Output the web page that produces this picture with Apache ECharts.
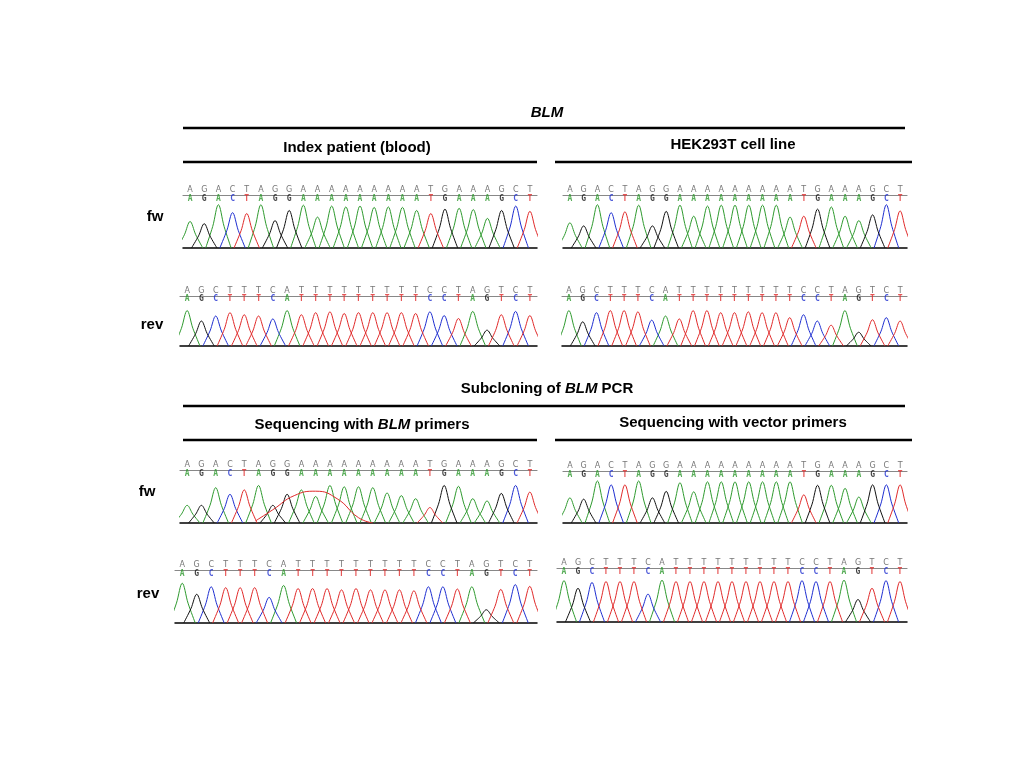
<!DOCTYPE html>
<html>
<head>
<meta charset="utf-8">
<script src="https://cdn.jsdelivr.net/npm/echarts@6/dist/echarts.min.js"></script>
<style>html,body{margin:0;background:#fff}#main{width:1024px;height:768px}</style>
</head>
<body>
<div id="main"></div>
<script>
// sequences read from the base calls
var seqFw = 'AGACTAGGAAAAAAAAATGAAAGCT'.split('');
var seqRev = 'AGCTTTCATTTTTTTTTCCTAGTCT'.split('');

// peak heights (relative), one per base
var hIndexFw = [.6,.55,.98,.8,.78,.98,.62,.85,.97,.7,.95,.93,.95,.92,.93,.92,.85,.78,.88,.9,.87,.67,.85,.95,.83];
var hHekFw = [.57,.5,.98,.8,.82,.97,.5,.83,.97,.72,.95,.97,.97,.97,.97,.97,.7,.72,.88,.93,.72,.62,.75,.98,.84];
var hIndexRev = [.85,.6,.72,.8,.75,.72,.65,.85,.75,.8,.82,.78,.8,.8,.8,.8,.78,.82,.73,.66,.83,.38,.75,.83,.73];
var hHekRev = [.85,.58,.8,.85,.85,.82,.62,.72,.65,.85,.85,.8,.8,.82,.8,.8,.68,.75,.6,.5,.85,.33,.63,.68,.6];
var hSubFw = [.4,.4,.8,.65,.75,.85,.4,.65,.75,.6,.85,.82,.82,.8,.68,.62,.55,.35,.85,.83,.55,.5,.67,.85,.7];
var hVecFw = [.58,.55,.97,.88,.88,.97,.58,.73,.93,.72,.95,.95,.95,.95,.95,.95,.95,.65,.87,.87,.8,.6,.88,.88,.88];
var hSubRev = [.9,.65,.82,.8,.8,.8,.58,.85,.78,.78,.78,.75,.78,.75,.75,.75,.73,.82,.82,.77,.82,.3,.76,.87,.83];
var hVecRev = [.92,.75,.88,.9,.9,.9,.62,.93,.9,.9,.9,.9,.9,.9,.9,.9,.9,.92,.9,.9,.93,.5,.75,.92,.9];
// broad red artifact in the subcloned fw trace
var artifactX = [5.3, 6.5, 8, 9.5, 11, 12.5, 13.5];
var artifactY = [0.05, 0.3, 0.62, 0.72, 0.55, 0.12, 0];

var baseColor = {A: '#2f9a2f', C: '#1f2fd0', G: '#111111', T: '#e02a2a'};

// panel frames: [left, lineTop, right, baseline]
var panels = [
  {seq: seqFw, h: hIndexFw, box: [183, 195, 537, 248]},
  {seq: seqFw, h: hHekFw, box: [563, 195, 907, 248]},
  {seq: seqRev, h: hIndexRev, box: [180, 296, 537, 346]},
  {seq: seqRev, h: hHekRev, box: [562, 296, 907, 346]},
  {seq: seqFw, h: hSubFw, box: [180, 470, 537, 523], artifact: true},
  {seq: seqFw, h: hVecFw, box: [563, 471, 907, 523]},
  {seq: seqRev, h: hSubRev, box: [175, 570, 537, 623]},
  {seq: seqRev, h: hVecRev, box: [557, 568, 907, 622]}
];

var grid = [], xAxis = [], yAxis = [], series = [];
panels.forEach(function (p, k) {
  var b = p.box;
  grid.push({left: b[0], top: b[1], width: b[2] - b[0], height: b[3] - b[1]});
  // value axis for peaks (baseline)
  xAxis.push({gridIndex: k, type: 'value', min: 0, max: p.seq.length,
    axisLine: {show: true, onZero: false, lineStyle: {color: '#000', width: 1.5}},
    axisTick: {show: false}, axisLabel: {show: false}, splitLine: {show: false}});
  // gray called bases above the top line
  xAxis.push({gridIndex: k, type: 'category', position: 'top', data: p.seq, boundaryGap: true,
    axisLine: {show: true, onZero: false, lineStyle: {color: '#888', width: 1.2}}, axisTick: {show: false},
    axisLabel: {interval: 0, color: '#777', fontSize: 8, margin: 1, fontFamily: 'DejaVu Sans'}});
  yAxis.push({gridIndex: k, type: 'value', min: 0, max: 1.2, show: false});
  'ACGT'.split('').forEach(function (base) {
    var d = [];
    p.seq.forEach(function (s, i) {
      if (s !== base) return;
      var h = p.h[i];
      d.push([i - 0.4, 0], [i + 0.1, h * 0.5], [i + 0.5, h], [i + 0.9, h * 0.5], [i + 1.4, 0], ['-', '-']);
    });
    series.push({type: 'line', xAxisIndex: k * 2, yAxisIndex: k, data: d, smooth: 0.35,
      showSymbol: false, silent: true, lineStyle: {color: baseColor[base], width: 1}});
  });
  // coloured base calls just below the top line
  series.push({type: 'scatter', xAxisIndex: k * 2, yAxisIndex: k, symbolSize: 0, silent: true,
    data: p.seq.map(function (s, i) { return {value: [i + 0.5, 1.12], name: s}; }),
    label: {show: true, position: 'inside', formatter: '{b}', fontSize: 8, fontWeight: 'bold',
      fontFamily: 'DejaVu Sans Mono', color: function (prm) { return baseColor[prm.name]; }}});
  if (p.artifact) {
    series.push({type: 'line', xAxisIndex: k * 2, yAxisIndex: k, smooth: true, showSymbol: false,
      data: artifactX.map(function (x, i) { return [x, artifactY[i]]; }),
      lineStyle: {color: baseColor.T, width: 1}});
  }
});
// label colours per point (callback colour not supported on series labels)
series.forEach(function (s) {
  if (s.type === 'scatter') {
    s.data.forEach(function (d) { d.label = {color: baseColor[d.name]}; });
    delete s.label.color;
  }
});

function txt(x, y, s, extra) {
  return {type: 'text', x: x, y: y, style: Object.assign({text: s, font: 'bold 15px "Liberation Sans", Arial',
    fill: '#000', textAlign: 'center', textVerticalAlign: 'middle'}, extra || {})};
}
function rule(x1, x2, y) {
  return {type: 'line', shape: {x1: x1, y1: y, x2: x2, y2: y}, style: {stroke: '#000', lineWidth: 2.5}};
}
var richFonts = {b: {font: 'bold 15px "Liberation Sans", Arial'}, i: {font: 'italic bold 15px "Liberation Sans", Arial'}};
var graphic = [
  txt(547, 113, 'BLM', {font: 'italic bold 15px "Liberation Sans", Arial'}),
  rule(183, 905, 128),
  txt(357, 148, 'Index patient (blood)'), rule(183, 537, 162),
  txt(733, 145, 'HEK293T cell line'), rule(555, 912, 162),
  {type: 'text', x: 547, y: 389, style: {text: '{b|Subcloning of }{i|BLM}{b| PCR}', textAlign: 'center', textVerticalAlign: 'middle', rich: richFonts}},
  rule(183, 905, 406),
  {type: 'text', x: 362, y: 425, style: {text: '{b|Sequencing with }{i|BLM}{b| primers}', textAlign: 'center', textVerticalAlign: 'middle', rich: richFonts}},
  rule(183, 537, 440),
  txt(733, 423, 'Sequencing with vector primers'), rule(555, 912, 440),
  txt(155, 217, 'fw'), txt(152, 325, 'rev'), txt(147, 492, 'fw'), txt(148, 594, 'rev')
];

var chart = echarts.init(document.getElementById('main'));
chart.setOption({animation: false, grid: grid, xAxis: xAxis, yAxis: yAxis, series: series, graphic: graphic});
</script>
</body>
</html>
